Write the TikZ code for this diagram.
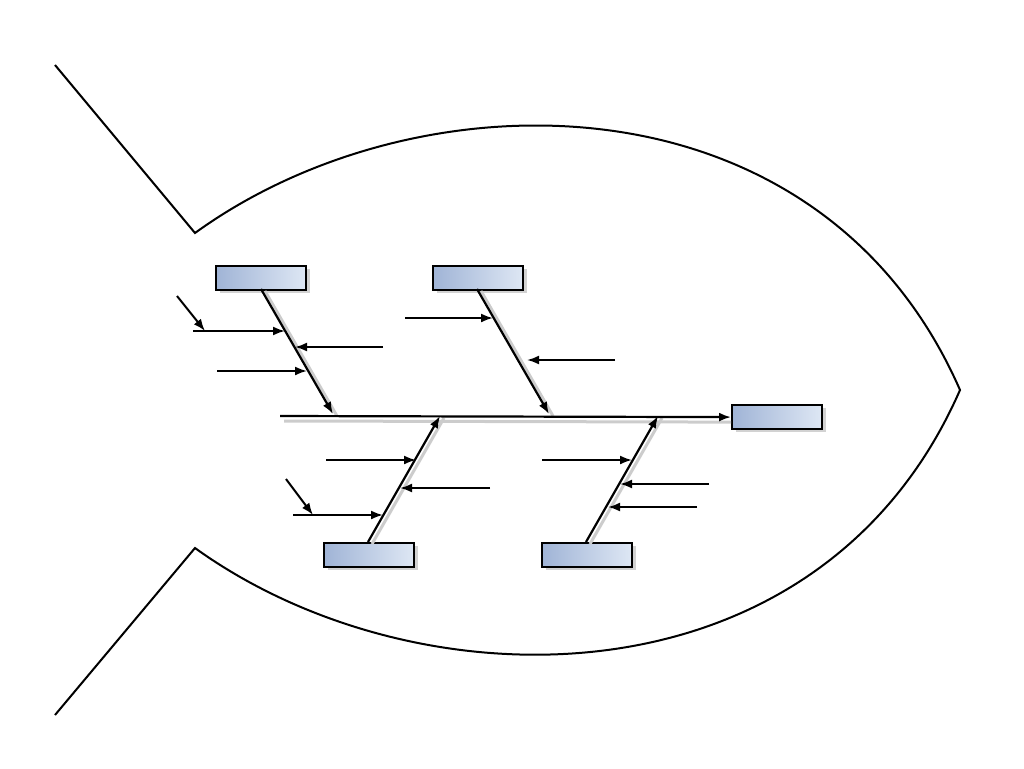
\documentclass[tikz,border=0pt]{standalone}
\usetikzlibrary{arrows.meta}
\definecolor{bdark}{RGB}{160,180,214}
\definecolor{blight}{RGB}{222,231,244}
\begin{document}
\begin{tikzpicture}[x=1pt,y=-1pt,
  cbox/.style={draw=black,line width=2.2pt,left color=bdark,right color=blight,minimum width=90pt,minimum height=24pt,inner sep=0pt,anchor=north west},
  sh/.style={fill=gray!35,draw=none,minimum width=90pt,minimum height=24pt,anchor=north west},
  bone/.style={line width=2.2pt,-{Latex[length=12pt,width=9pt]}},
  shadowline/.style={gray!40,line width=3pt},
  arr/.style={line width=2pt,-{Latex[length=12pt,width=9pt]}}]
\useasboundingbox (0,0) rectangle (1024,768);
% fish outline
\coordinate (t1) at (55,65); \coordinate (b1) at (195,233);
\coordinate (tip) at (960,390);
\coordinate (b2) at (195,548); \coordinate (t2) at (55,715);
\draw[line width=2pt] (t1) -- (b1) .. controls (420,70) and (820,70) .. (tip)
  .. controls (820,710) and (420,710) .. (b2) -- (t2);
% boxes with shadows
\foreach \x/\y/\n in {215/265/A,432/265/B,731/404/H,323/542/C,541/542/D}{
  \node[sh] at (\x+5,\y+4) {};
  \node[cbox] (\n) at (\x,\y) {};
}
% coordinates
\coordinate (s0) at (280,416); 
\coordinate (a0) at (261,289); \coordinate (a1) at (333,414);
\coordinate (bb0) at (477,289); \coordinate (bb1) at (549,414);
\coordinate (c0) at (368,542); \coordinate (c1) at (440,416);
\coordinate (d0) at (586,542); \coordinate (d1) at (658,416);
% shadows of lines
\draw[shadowline] ([shift={(4,5)}]s0) -- ([shift={(0,5)}]H.west);
\foreach \p/\q in {a0/a1,bb0/bb1,c0/c1,d0/d1}
  \draw[shadowline] ([shift={(4,2)}]\p) -- ([shift={(4,2)}]\q);
% spine and bones
\draw[bone] (s0) -- (H.west);
\draw[bone] (a0) -- (a1);
\draw[bone] (bb0) -- (bb1);
\draw[bone] (c0) -- (c1);
\draw[bone] (d0) -- (d1);
% small cause arrows
\foreach \xa/\ya/\xb/\yb [count=\i] in {
  193/331/285/331, 177/296/205/331, 383/347/295/347, 217/371/307/371,
  405/318/493/318, 615/360/527/360,
  326/460/416/460, 490/488/400/488, 293/515/383/515, 286/479/313/515,
  542/460/632/460, 709/484/620/484, 697/507/608/507}{
  \coordinate (p\i) at (\xa,\ya); \coordinate (q\i) at (\xb,\yb);
  \draw[arr] (p\i) -- (q\i);
}
\end{tikzpicture}
\end{document}
